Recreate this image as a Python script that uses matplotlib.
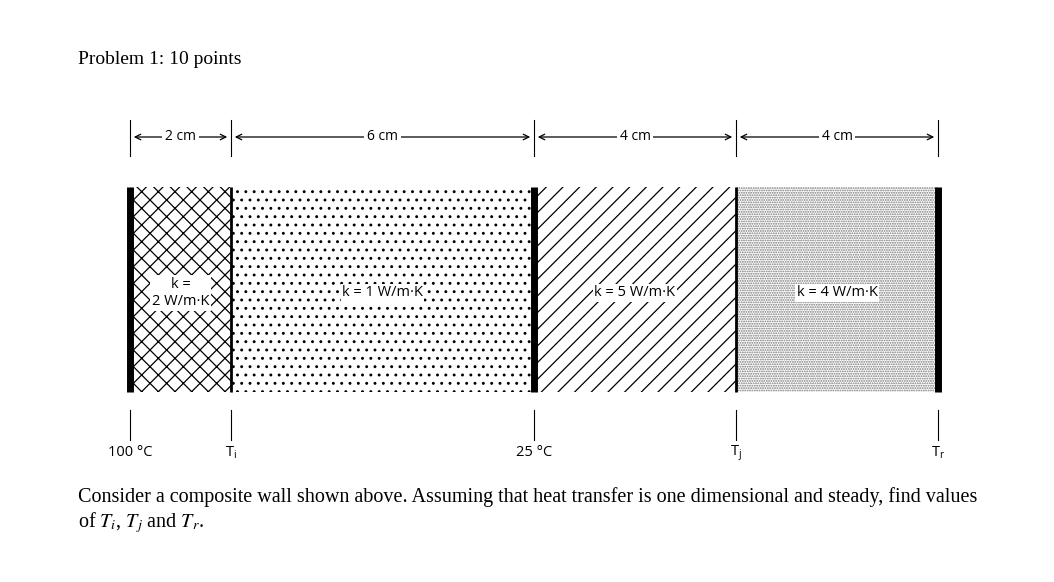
import matplotlib.pyplot as plt
from matplotlib.patches import Rectangle
import numpy as np

# layer data
widths_cm = [2, 6, 4, 4]
k_labels = ["k =\n2 W/m·K", "k = 1 W/m·K", "k = 5 W/m·K", "k = 4 W/m·K"]
dim_labels = ["2 cm", "6 cm", "4 cm", "4 cm"]
temp_labels = ["100 °C", "T$_\\mathregular{i}$", "25 °C", "T$_\\mathregular{j}$", "T$_\\mathregular{r}$"]
hatches = ["xx", "..", "//", "......."]
edge_lw = [5, 2, 5, 2, 5]

x0, px_per_cm = 130, 50.5
bounds = x0 + px_per_cm * np.concatenate([[0], np.cumsum(widths_cm)])
top, bot = 187, 392

plt.rcParams["mathtext.fontset"] = "stix"
plt.rcParams["hatch.linewidth"] = 0.9
fig = plt.figure(figsize=(10.54, 5.82), dpi=100)
ax = fig.add_axes([0, 0, 1, 1])
ax.set_xlim(0, 1054)
ax.set_ylim(582, 0)
ax.axis("off")

for i in range(4):
    col = "#777777" if i == 3 else "black"
    ax.add_patch(Rectangle((bounds[i], top), bounds[i + 1] - bounds[i], bot - top,
                           facecolor="white", edgecolor=col, hatch=hatches[i], lw=0))
    xm = (bounds[i] + bounds[i + 1]) / 2
    ax.text(xm, 293, k_labels[i], ha="center", va="center",
            fontsize=10.5, family="Open Sans", linespacing=1.2,
            bbox=dict(facecolor="white", edgecolor="none", pad=1))
    # dimension arrows
    ax.annotate("", xy=(bounds[i] + 1, 137), xytext=(xm, 137),
                arrowprops=dict(arrowstyle="->", lw=0.9))
    ax.annotate("", xy=(bounds[i + 1] - 1, 137), xytext=(xm, 137),
                arrowprops=dict(arrowstyle="->", lw=0.9))
    ax.text(xm, 137, dim_labels[i], ha="center", va="center", fontsize=10,
            family="Open Sans", bbox=dict(facecolor="white", edgecolor="none", pad=2))

for i, x in enumerate(bounds):
    ax.plot([x, x], [top, bot], color="black", lw=edge_lw[i], solid_capstyle="butt")
    ax.plot([x, x], [120, 156], color="black", lw=0.8)
    ax.plot([x, x], [410, 440], color="black", lw=0.8)
    ax.text(x, 453, temp_labels[i], ha="center", va="center", fontsize=10.5, family="Open Sans")

ax.text(78, 60, "Problem 1: 10 points", fontsize=14, family="Liberation Serif", va="center")
ax.text(78, 497, "Consider a composite wall shown above. Assuming that heat transfer is one dimensional and steady, find values",
        fontsize=14.5, family="Liberation Serif", va="center")
ax.text(78, 523, "of $T_i$, $T_j$ and $T_r$.", fontsize=14.5, family="Liberation Serif", va="center")

fig.savefig("out.png", dpi=100)
